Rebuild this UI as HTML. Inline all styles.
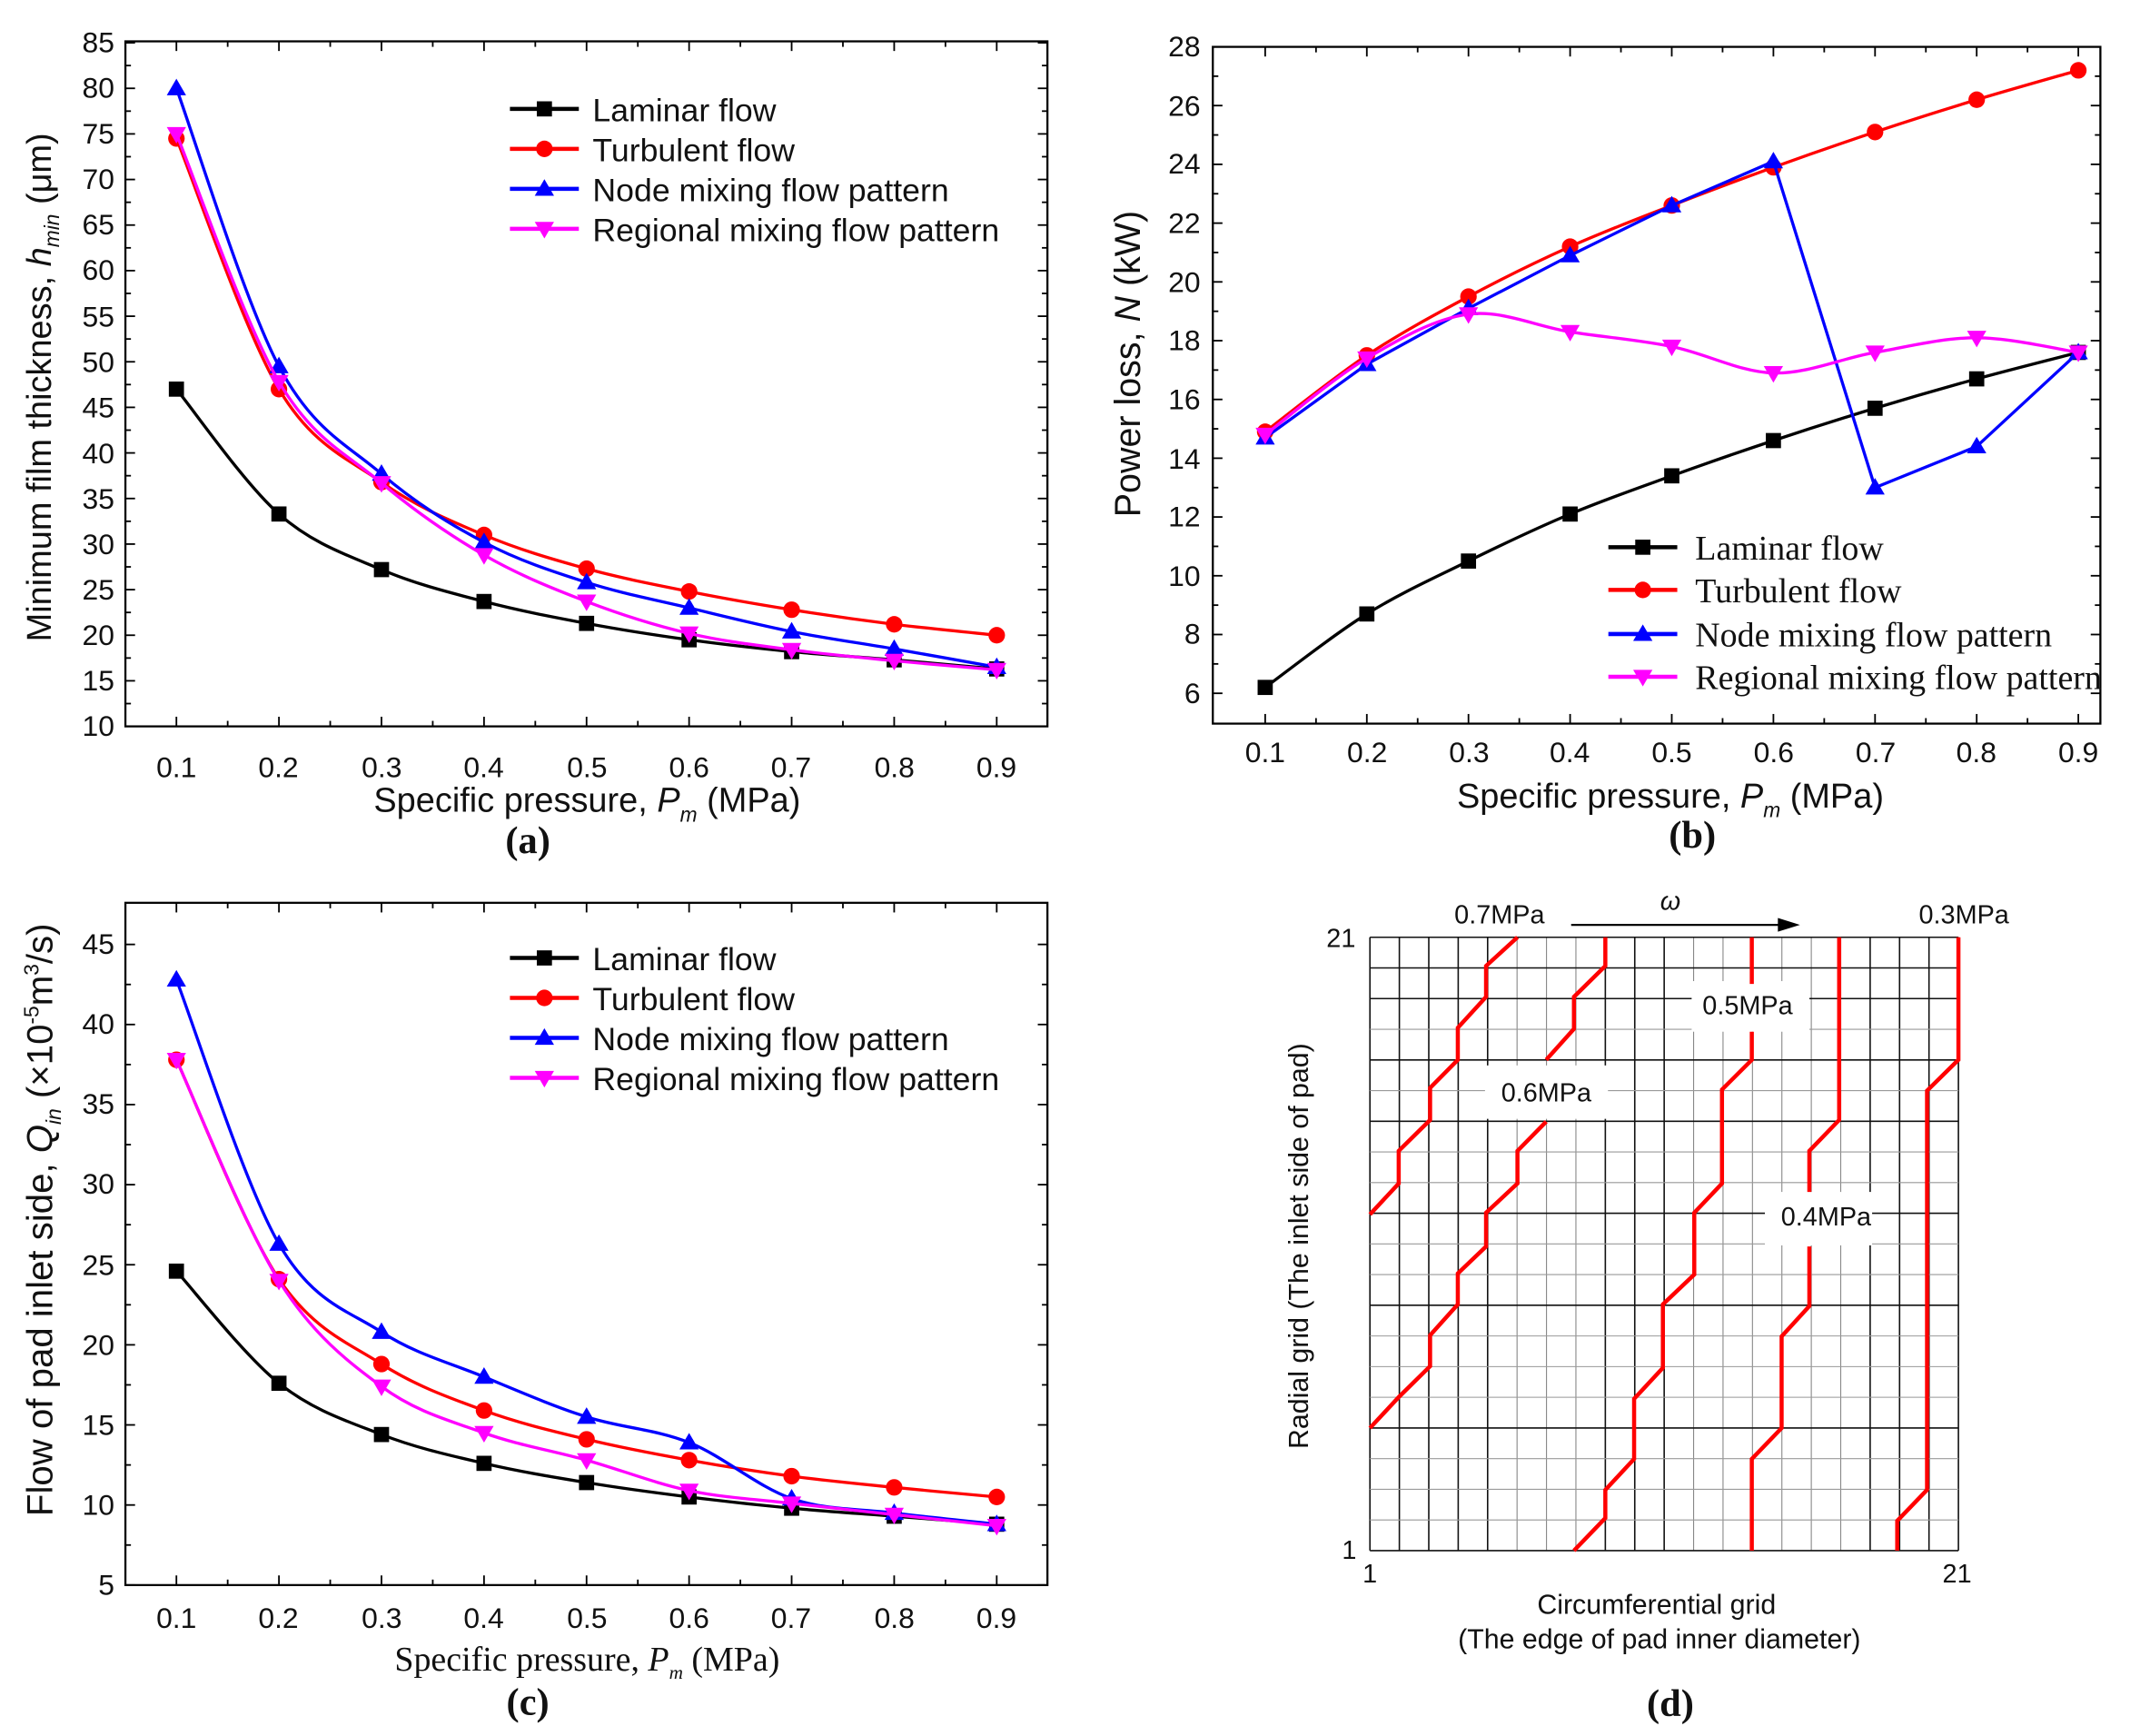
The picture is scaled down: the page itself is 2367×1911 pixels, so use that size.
<!DOCTYPE html>
<html><head><meta charset="utf-8"><style>
html,body{margin:0;padding:0;background:#fff;}
svg{display:block;}
.t{font-family:"Liberation Sans",sans-serif;fill:#111;}
.s{font-family:"Liberation Serif",serif;fill:#111;}
</style></head><body>
<svg id="sv" width="2367" height="1911" viewBox="0 0 1560 1259.5" preserveAspectRatio="none" xmlns="http://www.w3.org/2000/svg">
<rect width="1560" height="1260" fill="#fff"/>
<g id="plots"></g>
<!-- Panel a text -->
<g class="t" font-size="21" text-anchor="end">
<text x="83" y="38">85</text><text x="83" y="71">80</text><text x="83" y="104">75</text><text x="83" y="137">70</text><text x="83" y="170">65</text><text x="83" y="203">60</text><text x="83" y="237">55</text><text x="83" y="270">50</text><text x="83" y="303">45</text><text x="83" y="336">40</text><text x="83" y="369">35</text><text x="83" y="402">30</text><text x="83" y="435">25</text><text x="83" y="468">20</text><text x="83" y="501">15</text><text x="83" y="534">10</text>
</g>
<g class="t" font-size="21" text-anchor="middle">
<text x="128" y="564">0.1</text><text x="202" y="564">0.2</text><text x="277" y="564">0.3</text><text x="351" y="564">0.4</text><text x="426" y="564">0.5</text><text x="500" y="564">0.6</text><text x="574" y="564">0.7</text><text x="649" y="564">0.8</text><text x="723" y="564">0.9</text>
</g>
<text class="t" font-size="25" x="426" y="589" text-anchor="middle">Specific pressure, <tspan font-style="italic">P</tspan><tspan font-size="15" font-style="italic" dy="7">m</tspan><tspan dy="-7"> (MPa)</tspan></text>
<text class="s" font-size="28" font-weight="bold" x="383" y="619" text-anchor="middle">(a)</text>
<text class="t" font-size="25" transform="translate(37,281) rotate(-90)" text-anchor="middle">Minimum film thickness, <tspan font-style="italic">h</tspan><tspan font-size="15" font-style="italic" dy="6">min</tspan><tspan dy="-6"> (μm)</tspan></text>
<g class="t" font-size="23.5">
<text x="430" y="88">Laminar flow</text><text x="430" y="117">Turbulent flow</text><text x="430" y="146">Node mixing flow pattern</text><text x="430" y="175">Regional mixing flow pattern</text>
</g>
<!-- Panel b text -->
<g class="t" font-size="21" text-anchor="end">
<text x="871" y="41">28</text><text x="871" y="84">26</text><text x="871" y="126">24</text><text x="871" y="169">22</text><text x="871" y="212">20</text><text x="871" y="254">18</text><text x="871" y="297">16</text><text x="871" y="340">14</text><text x="871" y="382">12</text><text x="871" y="425">10</text><text x="871" y="467">8</text><text x="871" y="510">6</text>
</g>
<g class="t" font-size="21" text-anchor="middle">
<text x="918" y="553">0.1</text><text x="992" y="553">0.2</text><text x="1066" y="553">0.3</text><text x="1139" y="553">0.4</text><text x="1213" y="553">0.5</text><text x="1287" y="553">0.6</text><text x="1361" y="553">0.7</text><text x="1434" y="553">0.8</text><text x="1508" y="553">0.9</text>
</g>
<text class="t" font-size="25" x="1212" y="586" text-anchor="middle">Specific pressure, <tspan font-style="italic">P</tspan><tspan font-size="15" font-style="italic" dy="7">m</tspan><tspan dy="-7"> (MPa)</tspan></text>
<text class="s" font-size="28" font-weight="bold" x="1228" y="615" text-anchor="middle">(b)</text>
<text class="t" font-size="26" transform="translate(827,264) rotate(-90)" text-anchor="middle">Power loss, <tspan font-style="italic">N</tspan> (kW)</text>
<g class="s" font-size="25">
<text x="1230" y="406">Laminar flow</text><text x="1230" y="437">Turbulent flow</text><text x="1230" y="469">Node mixing flow pattern</text><text x="1230" y="500">Regional mixing flow pattern</text>
</g>
<!-- Panel c text -->
<g class="t" font-size="21" text-anchor="end">
<text x="83" y="692">45</text><text x="83" y="750">40</text><text x="83" y="808">35</text><text x="83" y="866">30</text><text x="83" y="925">25</text><text x="83" y="983">20</text><text x="83" y="1041">15</text><text x="83" y="1099">10</text><text x="83" y="1157">5</text>
</g>
<g class="t" font-size="21" text-anchor="middle">
<text x="128" y="1181">0.1</text><text x="202" y="1181">0.2</text><text x="277" y="1181">0.3</text><text x="351" y="1181">0.4</text><text x="426" y="1181">0.5</text><text x="500" y="1181">0.6</text><text x="574" y="1181">0.7</text><text x="649" y="1181">0.8</text><text x="723" y="1181">0.9</text>
</g>
<text class="s" font-size="25" x="426" y="1212" text-anchor="middle">Specific pressure, <tspan font-style="italic">P</tspan><tspan font-size="14" font-style="italic" dy="6">m</tspan><tspan dy="-6"> (MPa)</tspan></text>
<text class="s" font-size="28" font-weight="bold" x="383" y="1244" text-anchor="middle">(c)</text>
<text class="t" font-size="26.5" transform="translate(38,885) rotate(-90)" text-anchor="middle">Flow of pad inlet side, <tspan font-style="italic">Q</tspan><tspan font-size="15" font-style="italic" dy="6">in</tspan><tspan dy="-6"> (×10</tspan><tspan font-size="15" dy="-10">-5</tspan><tspan dy="10">m</tspan><tspan font-size="15" dy="-10">3</tspan><tspan dy="10">/s)</tspan></text>
<g class="t" font-size="23.5">
<text x="430" y="704">Laminar flow</text><text x="430" y="733">Turbulent flow</text><text x="430" y="762">Node mixing flow pattern</text><text x="430" y="791">Regional mixing flow pattern</text>
</g>
<!-- Panel d -->
<g id="pd"></g>
<g class="t" font-size="19">
<text x="973" y="687" text-anchor="middle">21</text><text x="979" y="1131" text-anchor="middle">1</text>
<text x="994" y="1148" text-anchor="middle">1</text><text x="1420" y="1148" text-anchor="middle">21</text>
<text x="1088" y="670" text-anchor="middle">0.7MPa</text><text x="1425" y="670" text-anchor="middle">0.3MPa</text>
<text x="1212" y="660" text-anchor="middle" font-style="italic">ω</text>
<text x="1268" y="736" text-anchor="middle">0.5MPa</text>
<text x="1122" y="799" text-anchor="middle">0.6MPa</text>
<text x="1325" y="889" text-anchor="middle">0.4MPa</text>
<text x="1202" y="1171" text-anchor="middle" font-size="20">Circumferential grid</text>
<text x="1204" y="1196" text-anchor="middle" font-size="20">(The edge of pad inner diameter)</text>
<text transform="translate(949,904) rotate(-90)" text-anchor="middle" font-size="20">Radial grid (The inlet side of pad)</text>
</g>
<text class="s" font-size="28" font-weight="bold" x="1212" y="1245" text-anchor="middle">(d)</text>
</svg>
<script>
var NS="http://www.w3.org/2000/svg";
function el(p,t,a){var e=document.createElementNS(NS,t);for(var k in a)e.setAttribute(k,a[k]);p.appendChild(e);return e;}
var G=document.getElementById('plots');
var cols=['#000','#f00','#00f','#f0f'];
function smooth(pts){var d='M'+pts[0][0]+','+pts[0][1];for(var i=0;i<pts.length-1;i++){var p0=pts[i-1]||pts[i],p1=pts[i],p2=pts[i+1],p3=pts[i+2]||p2;var t=6;d+=' C'+(p1[0]+(p2[0]-p0[0])/t)+','+(p1[1]+(p2[1]-p0[1])/t)+' '+(p2[0]-(p3[0]-p1[0])/t)+','+(p2[1]-(p3[1]-p1[1])/t)+' '+p2[0]+','+p2[1];}return d;}
function lin(pts){return 'M'+pts.map(function(p){return p[0]+','+p[1]}).join(' L');}
function marker(g,k,x,y,c){
 if(k==0)el(g,'rect',{x:x-5.5,y:y-5.5,width:11,height:11,fill:c});
 else if(k==1)el(g,'circle',{cx:x,cy:y,r:6,fill:c});
 else if(k==2)el(g,'path',{d:'M'+x+','+(y-7)+' L'+(x+7)+','+(y+5)+' L'+(x-7)+','+(y+5)+'Z',fill:c});
 else el(g,'path',{d:'M'+x+','+(y+7)+' L'+(x+7)+','+(y-5)+' L'+(x-7)+','+(y-5)+'Z',fill:c});}
function panel(o){
 var g=el(G,'g',{});
 el(g,'rect',{x:o.L,y:o.T,width:o.R-o.L,height:o.B-o.T,fill:'none',stroke:'#000','stroke-width':1.5});
 for(var v=o.ymin;v<=o.ymax+1e-9;v+=o.ystep/2){var y=o.fy(v);if(y<o.T-1||y>o.B+1)continue;var maj=Math.abs(((v-o.ymin)/o.ystep)-Math.round((v-o.ymin)/o.ystep))<1e-6;var l=maj?7:4;
  el(g,'line',{x1:o.L,x2:o.L+l,y1:y,y2:y,stroke:'#000','stroke-width':1.2});el(g,'line',{x1:o.R,x2:o.R-l,y1:y,y2:y,stroke:'#000','stroke-width':1.2});}
 for(var i=0;i<=8;i+=0.5){var x=o.x0+i*o.dx;var l=(i%1==0)?7:4;
  el(g,'line',{x1:x,x2:x,y1:o.B,y2:o.B-l,stroke:'#000','stroke-width':1.2});el(g,'line',{x1:x,x2:x,y1:o.T,y2:o.T+l,stroke:'#000','stroke-width':1.2});}
 o.data.forEach(function(s,k){var pts=s.map(function(v,i){return [o.x0+i*o.dx,o.fy(v)]});
  var d=(o.sm&&!(o.lin&&o.lin[k]))?smooth(pts):lin(pts);
  el(g,'path',{d:d,fill:'none',stroke:cols[k],'stroke-width':2.2});
  pts.forEach(function(p){marker(g,k,p[0],p[1],cols[k])});});
 o.leg.forEach(function(y,k){el(g,'line',{x1:o.lx,x2:o.lx+50,y1:y,y2:y,stroke:cols[k],'stroke-width':3});marker(g,k,o.lx+25,y,cols[k]);});
}
panel({L:91,R:760,T:30,B:527,x0:128,dx:74.4,ymin:10,ymax:85,ystep:5,fy:function(v){return 527-(v-10)*6.613},sm:1,
 data:[[47,33.3,27.2,23.7,21.3,19.5,18.2,17.3,16.3],[74.5,47,36.8,31,27.3,24.8,22.8,21.2,20],[80,49.5,37.7,30.2,25.8,23,20.4,18.5,16.5],[75,47.8,36.7,28.8,23.7,20.2,18.4,17.2,16.2]],
 leg:[79,108,137,166],lx:370});
panel({L:880,R:1524,T:34,B:525,x0:918,dx:73.75,ymin:6,ymax:28,ystep:2,fy:function(v){return 503-(v-6)*21.32},sm:1,lin:[0,0,1,0],
 data:[[6.2,8.7,10.5,12.1,13.4,14.6,15.7,16.7,17.6],[14.9,17.5,19.5,21.2,22.6,23.9,25.1,26.2,27.2],[14.7,17.2,19.1,20.9,22.6,24.1,13.0,14.4,17.6],[14.8,17.4,18.9,18.3,17.8,16.9,17.6,18.1,17.6]],
 leg:[397,428,460,491],lx:1167});
panel({L:91,R:760,T:655,B:1150,x0:128,dx:74.4,ymin:5,ymax:45,ystep:5,fy:function(v){return 1150-(v-5)*11.62},sm:1,
 data:[[24.6,17.6,14.4,12.6,11.4,10.5,9.8,9.3,8.8],[37.8,24.1,18.8,15.9,14.1,12.8,11.8,11.1,10.5],[42.8,26.3,20.8,18,15.5,13.9,10.4,9.5,8.8],[37.8,24,17.4,14.5,12.8,10.9,10.1,9.4,8.7]],
 leg:[695,724,753,782],lx:370});
var fx=427/1125,fy=445/1091;
var D=document.getElementById('pd');
var g=el(D,'g',{transform:'translate('+(994-210*fx)+','+(680-127*fy)+') scale('+fx+','+fy+')'});
var dark=[0,1,2,3,4,8,9,10,17,18,19,20];
for(var i=0;i<=20;i++){var x=210+i*56.25;var dk=dark.indexOf(i)>=0;el(g,'line',{x1:x,x2:x,y1:127,y2:1218,stroke:dk?'#111':'#888','stroke-width':dk?1.6:1.1,'vector-effect':'non-scaling-stroke'});}
var darkh=[0,4,8,11,14,16,18,19,20];
for(var j=0;j<=20;j++){var y=1218-j*54.55;var dk=darkh.indexOf(j)>=0;el(g,'line',{x1:210,x2:1335,y1:y,y2:y,stroke:dk?'#111':'#999','stroke-width':dk?1.6:1.1,'vector-effect':'non-scaling-stroke'});}
[[825,205,225,90],[430,355,235,95],[965,580,205,95]].forEach(function(r){el(g,'rect',{x:r[0],y:r[1],width:r[2],height:r[3],fill:'#fff'});});
var reds=[
[[210,620],[265,565],[265,507],[325,452],[325,395],[378,345],[378,288],[432,233],[432,178],[492,127]],
[[210,1000],[265,945],[325,890],[325,835],[378,780],[378,725],[432,677],[432,617],[492,565],[492,507],[547,455]],
[[547,345],[600,290],[600,233],[660,178],[660,127]],
[[600,1218],[660,1160],[660,1110],[715,1055],[715,948],[770,893],[770,780],[830,727],[830,617],[883,565],[883,398],[940,345],[940,295]],
[[940,210],[940,127]],
[[940,1218],[940,1055],[997,1000],[997,837],[1050,783],[1050,677]],
[[1050,580],[1050,507],[1107,452],[1107,127]],
[[1218,1218],[1218,1165],[1275,1110],[1275,400],[1335,345],[1335,127]]];
reds.forEach(function(p){el(g,'path',{d:lin(p),fill:'none',stroke:'#f00','stroke-width':4.5,'vector-effect':'non-scaling-stroke'});});
el(D,'line',{x1:1140,x2:1292,y1:671,y2:671,stroke:'#000','stroke-width':1.5});
el(D,'path',{d:'M1306,671 L1290,666 L1290,676Z',fill:'#000'});
</script>
</body></html>
